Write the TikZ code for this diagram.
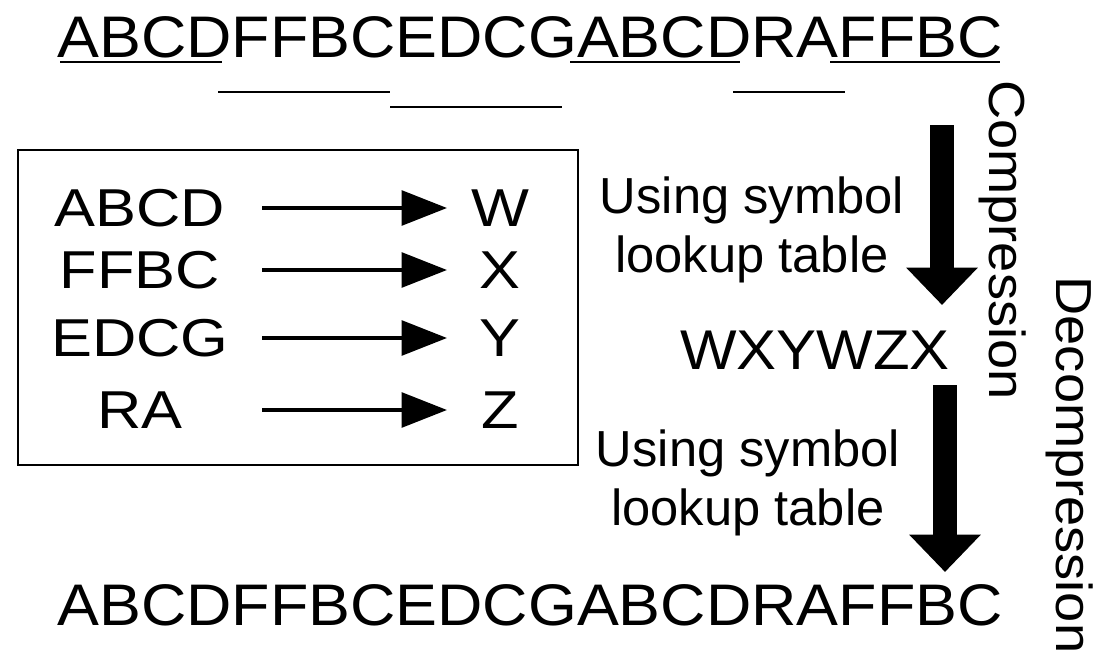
\documentclass[tikz,border=0pt]{standalone}
\usepackage{fontspec}
\setmainfont{Liberation Sans}
\newfontfamily\wideA[FakeStretch=1.07]{Liberation Sans}
\newfontfamily\wideB[FakeStretch=1.15]{Liberation Sans}
\usetikzlibrary{arrows.meta}
\begin{document}
\begin{tikzpicture}[x=0.75pt,y=-0.75pt,
  big/.style={font=\wideA\fontsize{44}{46}\selectfont,inner sep=0pt},
  mid/.style={font=\fontsize{38}{44}\selectfont,inner sep=0pt},
  lft/.style={font=\wideB\fontsize{40}{44}\selectfont,inner sep=0pt},
  ul/.style={line width=2.2pt},
  arr/.style={line width=2.8pt,-{Triangle[length=34pt,width=26pt]}},
  fat/.style={line width=18pt,-{Triangle[length=28pt,width=52pt]}}]
\useasboundingbox (0,0) rectangle (1102,667);
\node[big,anchor=base] (top) at (530,58) {ABCDFFBCEDCGABCDRAFFBC};
\draw[ul] (60,62) -- (222,62) (570,62) -- (740,62) (830,62) -- (1000,62);
\draw[ul] (218,92) -- (390,92) (733,92) -- (845,92);
\draw[ul] (390,107) -- (562,107);
\draw[line width=2.2pt] (18,150) rectangle (578,465);
\foreach \w/\l/\y/\n in {ABCD/W/208/a,FFBC/X/270/b,EDCG/Y/338/c,RA/Z/410/d}{
  \node[lft] (k\n) at (140,\y) {\w};
  \node[lft] (v\n) at (500,\y) {\l};
  \coordinate (s\n) at (262,\y);
  \coordinate (e\n) at (447,\y);
  \draw[arr] (s\n) -- (e\n);
}
\node[mid,align=center] (u1) at (752,230) {Using symbol\\lookup table};
\node[mid,align=center] (u2) at (748,483) {Using symbol\\lookup table};
\node[inner sep=0pt,font=\wideA\fontsize{42}{44}\selectfont] (mid) at (815,350) {WXYWZX};
\coordinate (a1s) at (942,125); \coordinate (a1e) at (942,305);
\coordinate (a2s) at (945,385); \coordinate (a2e) at (945,572);
\draw[fat] (a1s) -- (a1e);
\draw[fat] (a2s) -- (a2e);
\node[mid,font=\wideA\fontsize{38}{40}\selectfont,rotate=-90] (comp) at (1003,240) {Compression};
\node[mid,font=\wideA\fontsize{38}{40}\selectfont,rotate=-90] (deco) at (1070,465) {Decompression};
\node[big,anchor=base] (bot) at (530,625) {ABCDFFBCEDCGABCDRAFFBC};
\end{tikzpicture}
\end{document}
